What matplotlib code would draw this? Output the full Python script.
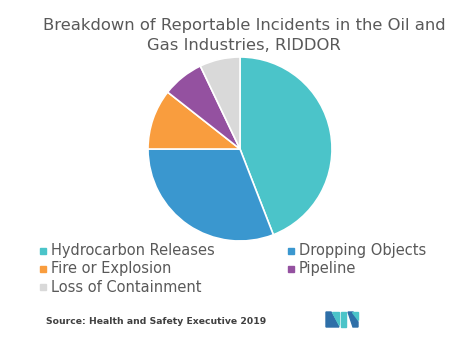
import matplotlib
matplotlib.use('Agg')
import matplotlib.pyplot as plt
from matplotlib.patches import Polygon, Rectangle

# data
labels = ["Hydrocarbon Releases", "Dropping Objects", "Fire or Explosion",
          "Pipeline", "Loss of Containment"]
shares = [44.1, 30.9, 10.6, 7.3, 7.1]
colors = ["#4BC4C9", "#3A97CF", "#F99D3E", "#9451A0", "#D9D9D9"]

fig = plt.figure(figsize=(4.74, 3.53), dpi=100)
fig.patch.set_facecolor("white")

fig.text(244 / 474, 0.95, "Breakdown of Reportable Incidents in the Oil and\nGas Industries, RIDDOR",
         ha="center", va="top", fontsize=11.8, color="#595959", linespacing=1.45)

# pie: centre at (240,149) px, radius ~92 px
r = 92
ax = fig.add_axes([(240 - r) / 474, 1 - (149 + r) / 353, 2 * r / 474, 2 * r / 353])
ax.pie(shares, colors=colors, startangle=90, counterclock=False, radius=1,
       wedgeprops=dict(edgecolor="white", linewidth=1.2))
ax.set_xlim(-1, 1)
ax.set_ylim(-1, 1)
ax.set_aspect("equal")
ax.axis("off")

# legend, laid out in two columns like the source
pos = [(40, 251), (288, 251), (40, 269), (288, 269), (40, 287)]
for (x, y), lab, col in zip(pos, labels, colors):
    fig.patches.append(Rectangle((x / 474, 1 - (y + 3) / 353), 6 / 474, 6 / 353,
                                 transform=fig.transFigure, color=col))
    fig.text((x + 11) / 474, 1 - y / 353, lab, ha="left", va="center",
             fontsize=10.5, color="#595959")

fig.text(46 / 474, 1 - 322 / 353, "Source: Health and Safety Executive 2019",
         ha="left", va="center", fontsize=6.7, fontweight="bold", color="#404040")

# small logo
def px(pts):
    return [(a / 474, 1 - b / 353) for a, b in pts]

logo = [
    ([(326, 327), (326, 312), (331, 312), (339, 327)], "#2E6FA8"),
    ([(332, 312), (339, 312), (339, 325)], "#4BC4C9"),
    ([(341, 312), (346, 312), (346, 327), (341, 327)], "#4BC4C9"),
    ([(348, 312), (353, 312), (358, 322), (358, 327), (353, 327)], "#2E6FA8"),
    ([(352, 312), (358, 312), (358, 320)], "#4BC4C9"),
]
for pts, col in logo:
    fig.patches.append(Polygon(px(pts), closed=True, transform=fig.transFigure,
                               color=col))

fig.savefig("out.png", dpi=100)
